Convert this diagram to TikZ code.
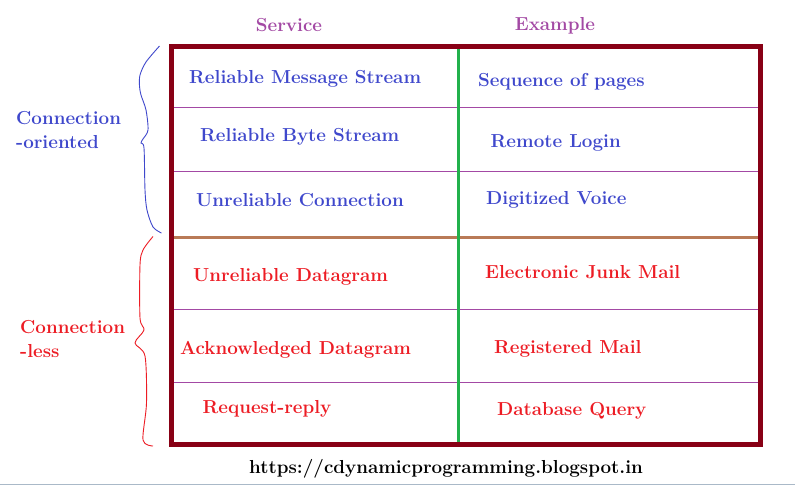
\documentclass[tikz,border=0pt]{standalone}
\usepackage{fontspec}
\definecolor{dred}{RGB}{136,0,21}
\definecolor{pgreen}{RGB}{34,177,76}
\definecolor{pbrown}{RGB}{185,122,87}
\definecolor{ppurple}{RGB}{163,73,164}
\definecolor{pblue}{RGB}{63,72,204}
\definecolor{pred}{RGB}{237,28,36}
\definecolor{pgray}{RGB}{170,185,200}
\tikzset{
  txt/.style={anchor=base west, inner sep=0pt, font=\fontsize{18.8}{20}\selectfont\bfseries},
  bluetxt/.style={txt, text=pblue},
  redtxt/.style={txt, text=pred},
  head/.style={anchor=base, inner sep=0pt, font=\fontsize{18.8}{20}\selectfont\bfseries, text=ppurple},
  rowline/.style={draw=ppurple, line width=1pt},
}
\begin{document}
\begin{tikzpicture}[x=1pt,y=-1pt]
\useasboundingbox (0,0) rectangle (795,485);
\fill[white] (0,0) rectangle (795,485);
% bottom gray rule
\draw[pgray, line width=1pt] (0,484.5) -- (795,484.5);
% row lines
\draw[rowline] (173,107.5) -- (759,107.5);
\draw[rowline] (173,171.5) -- (759,171.5);
\draw[rowline] (173,309.5) -- (759,309.5);
\draw[rowline] (173,382.5) -- (759,382.5);
\draw[pbrown, line width=3pt] (173,237.5) -- (761,237.5);
\draw[pgreen, line width=3pt] (458.5,46) -- (458.5,446);
% outer frame
\draw[dred, line width=5pt] (171.5,46.5) rectangle (760.3,444.2);
% headers
\node[head] (svc) at (289,31) {Service};
\node[head] (ex) at (555,30) {Example};
% blue rows
\node[bluetxt] (r1a) at (189,83.5) {Reliable Message Stream};
\node[bluetxt] (r2a) at (200,141.5) {Reliable Byte Stream};
\node[bluetxt] (r3a) at (196,206.5) {Unreliable Connection};
\node[bluetxt] (r1b) at (478,86) {Sequence of pages};
\node[bluetxt] (r2b) at (490.5,147.5) {Remote Login};
\node[bluetxt] (r3b) at (486,204.5) {Digitized Voice};
% red rows
\node[redtxt] (r4a) at (193,281.5) {Unreliable Datagram};
\node[redtxt] (r5a) at (180,354) {Acknowledged Datagram};
\node[redtxt] (r6a) at (202.5,413.3) {Request-reply};
\node[redtxt] (r4b) at (485,278.3) {Electronic Junk Mail};
\node[redtxt] (r5b) at (494,353.3) {Registered Mail};
\node[redtxt] (r6b) at (497,415) {Database Query};
% group labels
\node[bluetxt] (co1) at (16,124) {Connection};
\node[bluetxt] (co2) at (16,148.3) {-oriented};
\node[redtxt] (cl1) at (20,333.3) {Connection};
\node[redtxt] (cl2) at (20,357.7) {-less};
% url
\node[txt, text=black] (url) at (249,473.3) {https://cdynamicprogramming.blogspot.in};
% braces
\draw[pblue, line width=0.9pt] plot[smooth, tension=0.5] coordinates {
 (159.5,46) (146,62) (140,75) (139.5,86) (141,95) (146,110) (148,130) (143,139) (141,143) (144,148) (145,190) (147,210) (153,227) (161.5,233)};
\draw[pred, line width=0.9pt] plot[smooth, tension=0.5] coordinates {
 (153,236.5) (143,250) (140,265) (140,318) (144,330) (135,343) (145,356) (146.5,403) (143,440) (153,446)};
\end{tikzpicture}
\end{document}
